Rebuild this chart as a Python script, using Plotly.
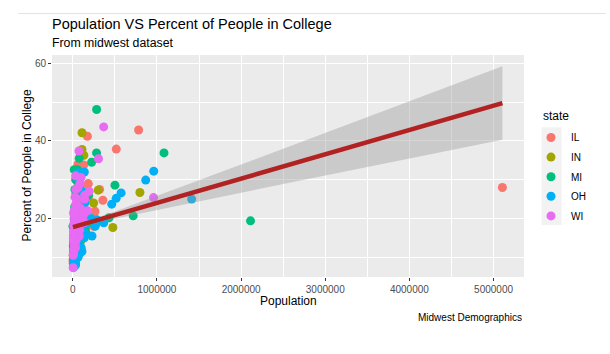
import plotly.graph_objects as go

# ---------------- data ----------------
states = ["IL", "IN", "MI", "OH", "WI"]
colors = ["#F8766D", "#A3A500", "#00BF7D", "#00B0F6", "#E76BF3"]

il_pop = [5105067, 781666, 516418, 357313, 317471, 262852, 252913, 249238, 182827, 183241,
          178386, 173025, 148723, 129180, 117206, 123692, 96255, 106913, 61067, 88257,
          77932, 66090, 39413, 51644, 56393, 57733, 60186, 45957, 48052, 35244,
          30806, 32337, 39301, 47679, 31704, 40319, 41561, 33944, 34418, 37020,
          51159, 34392, 36397, 38080, 22422, 34583, 35688, 30787, 26551, 30728,
          30798, 17619, 19464, 19595, 15548, 17290, 22261, 21821, 19181, 15317,
          21373, 17577, 21412, 17241, 19464, 15972, 15921, 20893, 14275, 13930,
          13437, 14752, 11347, 8499, 4373, 5189, 5322, 5644, 5836, 5730,
          6534, 6909, 7440, 10626, 7523, 8096, 7498, 11164, 10670, 10609,
          14460, 16545, 13111, 16522, 14965, 12846, 16269, 16516, 32653, 16805,
          20539, 14991]
il_pc = [28.0, 42.8, 37.9, 24.7, 27.5, 21.9, 21.3, 18.0, 25.2, 29.0,
         28.8, 41.2, 20.3, 33.8, 22.0, 19.5, 16.5, 15.5, 34.0, 14.0,
         30.5, 18.0, 22.5, 27.0, 17.0, 17.5, 15.5, 17.0, 17.5, 30.0,
         16.5, 15.0, 14.5, 13.0, 16.0, 12.5, 12.0, 13.5, 12.5, 15.0,
         15.5, 14.0, 18.5, 12.0, 19.0, 11.5, 15.0, 13.0, 13.0, 11.0,
         16.0, 12.5, 13.5, 12.5, 20.0, 13.0, 12.0, 15.0, 14.5, 10.5,
         14.0, 11.5, 12.0, 11.0, 12.0, 10.5, 11.5, 10.0, 14.5, 13.5,
         12.0, 11.0, 10.0, 11.5, 9.5, 9.0, 8.5, 10.5, 9.0, 13.0,
         14.0, 8.5, 11.0, 9.0, 9.5, 10.5, 12.5, 17.5, 13.0, 12.0,
         11.0, 14.0, 13.5, 10.5, 13.0, 13.5, 11.5, 15.0, 22.5, 13.0,
         13.5, 14.5]

in_pop = [797159, 475594, 300836, 247052, 165058, 156198, 130598, 128932, 130669, 119659,
          108978, 108936, 106107, 107066, 80827, 87777, 88109, 75717, 63657, 71951,
          74169, 64404, 65294, 45527, 55920, 38835, 44920, 42836, 48139, 42182,
          37877, 35324, 37730, 38413, 39884, 35427, 40307, 36897, 34436, 36616,
          29890, 38147, 30315, 35069, 27651, 30974, 24960, 27446, 23645, 29797,
          31913, 27533, 25968, 20991, 23661, 27148, 29477, 31095, 25948, 26015,
          21512, 17281, 18993, 30410, 23717, 24705, 22747, 18840, 23265, 16119,
          18129, 18409, 19490, 19107, 19580, 15410, 14067, 18809, 12643, 14080,
          9914, 17808, 10369, 13551, 9441, 7738, 5315, 6976, 8176, 16773,
          12509, 24616]
in_pc = [26.7, 17.7, 27.3, 24.0, 21.5, 16.5, 36.3, 23.5, 15.0, 22.0,
         42.1, 37.8, 22.5, 15.5, 16.5, 14.0, 22.5, 21.0, 22.5, 15.5,
         15.0, 19.5, 16.5, 20.0, 13.5, 13.0, 17.0, 11.0, 12.5, 13.5,
         11.5, 12.0, 12.0, 12.5, 15.5, 15.0, 12.5, 12.0, 15.0, 14.0,
         10.5, 20.5, 19.0, 14.5, 13.5, 12.0, 12.5, 14.5, 11.5, 16.0,
         12.0, 10.0, 13.0, 8.5, 9.0, 11.5, 9.5, 12.0, 13.5, 9.5,
         10.0, 10.0, 10.5, 10.5, 9.5, 10.5, 9.0, 11.5, 12.0, 13.0,
         12.0, 10.0, 11.0, 10.5, 10.0, 11.0, 10.5, 11.5, 10.5, 17.5,
         8.0, 11.0, 9.5, 9.5, 11.5, 9.0, 10.5, 11.0, 12.0, 10.0,
         9.5, 11.0]

mi_pop = [2111687, 1083592, 717400, 500631, 430459, 282937, 281912, 223411, 211946, 187768,
          158983, 149756, 161378, 133600, 135982, 145607, 115645, 111723, 91476, 75651,
          92879, 90509, 64273, 70887, 74768, 54624, 70060, 69770, 57024, 57883,
          58913, 35446, 43431, 50057, 53059, 49477, 41502, 55498, 39928, 38202,
          37308, 34604, 37780, 25040, 16527, 38982, 34951, 25537, 20146, 26360,
          30605, 21398, 21468, 26831, 18052, 30209, 24952, 21896, 19776, 18681,
          17957, 13497, 18185, 12200, 21265, 22454, 8583, 12147, 7842, 10145,
          14931, 12260, 8936, 13743, 8972, 7954, 13175, 1701, 5763, 10674,
          24920, 8854, 8302]
mi_pc = [19.4, 36.9, 20.7, 28.6, 20.2, 48.1, 36.9, 34.5, 19.0, 26.0,
         16.0, 17.5, 19.5, 15.0, 18.5, 16.0, 24.5, 16.0, 16.0, 35.5,
         21.5, 16.5, 29.0, 26.0, 13.5, 32.6, 15.5, 14.0, 13.0, 21.0,
         14.5, 30.0, 14.0, 15.5, 12.0, 12.5, 13.0, 12.5, 11.5, 12.0,
         26.5, 19.0, 17.5, 27.5, 32.6, 14.5, 12.5, 17.0, 11.5, 15.0,
         17.0, 15.5, 23.0, 17.5, 18.0, 14.0, 12.0, 11.5, 13.5, 12.5,
         19.0, 12.5, 19.5, 21.5, 16.0, 14.0, 9.5, 11.0, 11.0, 12.0,
         10.5, 13.5, 11.5, 13.0, 15.5, 14.5, 14.0, 18.0, 13.0, 16.5,
         13.5, 15.0, 14.0]

oh_pop = [1412140, 961437, 866228, 573809, 514990, 462361, 367585, 291479, 271126, 264806,
          215499, 227813, 150187, 113909, 136731, 142585, 122354, 113269, 126137, 128300,
          147548, 109755, 108276, 66929, 59549, 103461, 101461, 84090, 99821, 80298,
          93182, 81129, 76779, 69330, 71074, 82068, 80327, 64274, 65536, 61963,
          61834, 47473, 59733, 62254, 47507, 56240, 40029, 47870, 53619, 44585,
          44915, 31969, 37068, 48255, 36019, 39350, 42310, 36956, 38498, 39443,
          33819, 30464, 34966, 35415, 35728, 40113, 39024, 35427, 32849, 30954,
          30230, 31111, 22254, 27749, 31557, 27466, 25371, 22987, 25533, 26521,
          16085, 15497, 11336, 14194, 20488, 24249, 11098, 29108]
oh_pc = [25.0, 32.2, 29.9, 26.6, 25.2, 23.7, 18.9, 19.6, 18.5, 18.0,
         20.0, 15.5, 18.5, 22.0, 32.0, 24.0, 22.5, 27.0, 15.0, 19.0,
         16.0, 16.5, 11.5, 31.8, 30.5, 18.5, 16.5, 11.5, 12.5, 12.0,
         15.5, 28.0, 16.0, 13.0, 11.0, 12.5, 11.0, 12.5, 20.0, 12.5,
         10.0, 18.0, 13.0, 15.5, 16.0, 12.0, 13.0, 11.0, 10.5, 13.0,
         12.0, 15.0, 12.5, 11.5, 12.0, 14.0, 13.0, 12.5, 13.0, 12.0,
         12.0, 12.5, 10.0, 13.0, 10.5, 11.0, 11.5, 11.0, 8.0, 11.5,
         9.5, 14.5, 11.5, 10.5, 8.5, 10.5, 8.0, 9.0, 10.5, 9.5,
         9.0, 8.5, 8.5, 8.5, 10.5, 9.5, 7.5, 13.0]

wi_pop = [959275, 367085, 304715, 194594, 175034, 140320, 140510, 128181, 139510, 115400,
          103877, 97904, 95328, 90083, 85183, 75000, 72831, 80421, 73605, 61405,
          67783, 76559, 50251, 46975, 45088, 52360, 49264, 40750, 35909, 32765,
          40548, 36633, 46104, 37157, 31679, 34773, 26993, 30339, 41758, 34291,
          17707, 31647, 25263, 25617, 25690, 19505, 18878, 30226, 16588, 19385,
          21650, 15682, 18651, 20150, 16076, 17521, 14181, 18901, 15600, 15079,
          13772, 13084, 16307, 14008, 13584, 15940, 8776, 4590, 6153, 12321,
          7107, 3890]
wi_pc = [25.4, 43.6, 35.4, 27.0, 22.0, 26.0, 25.0, 21.0, 19.0, 20.0,
         19.5, 30.6, 22.5, 18.5, 29.0, 23.0, 37.4, 17.0, 18.5, 28.0,
         21.0, 15.5, 25.0, 20.5, 19.0, 17.0, 22.5, 17.5, 27.5, 31.0,
         14.5, 16.0, 17.5, 15.0, 23.0, 18.0, 16.5, 20.0, 24.0, 23.5,
         21.5, 12.5, 16.0, 15.5, 25.5, 14.0, 14.5, 13.5, 15.0, 14.0,
         13.0, 12.0, 16.5, 19.5, 15.5, 17.0, 18.5, 12.5, 15.0, 13.5,
         18.0, 14.5, 22.0, 21.0, 14.0, 15.5, 11.0, 10.5, 15.0, 12.0,
         14.5, 7.3]

pops = [il_pop, in_pop, mi_pop, oh_pop, wi_pop]
pcts = [il_pc, in_pc, mi_pc, oh_pc, wi_pc]

# linear fit and its confidence band
fit_x = [1701, 100000, 250000, 500000, 1000000, 1500000, 2000000, 2500000,
         3000000, 3500000, 4000000, 4500000, 5105067]
fit_y = [17.76, 18.38, 19.32, 20.89, 24.02, 27.16, 30.29, 33.43,
         36.56, 39.70, 42.83, 45.97, 49.76]
fit_lo = [17.17, 17.82, 18.69, 19.94, 22.23, 24.46, 26.66, 28.87,
          31.06, 33.26, 35.45, 37.65, 40.31]
fit_hi = [18.35, 18.94, 19.95, 21.84, 25.81, 29.86, 33.92, 37.99,
          42.06, 46.14, 50.21, 54.29, 59.21]

x_ticks = [0, 1000000, 2000000, 3000000, 4000000, 5000000]
y_ticks = [20, 40, 60]

# ---------------- geometry ----------------
W, H = 610, 354
L, R, T, B = 52, 524, 55, 277   # panel edges in pixels


def px(x):
    return (x - L) / (R - L)


def py(y):
    return (B - y) / (B - T)


FONT = "Liberation Sans, Arial, sans-serif"

fig = go.Figure()

for i, s in enumerate(states):
    fig.add_trace(go.Scatter(
        x=pops[i], y=pcts[i], mode="markers", name=s, legendgroup=s,
        marker=dict(color=colors[i], size=9, line=dict(width=0)),
        hoverinfo="skip"))

fig.add_trace(go.Scatter(x=fit_x, y=fit_lo, mode="lines", line=dict(width=0),
                         showlegend=False, hoverinfo="skip"))
fig.add_trace(go.Scatter(x=fit_x, y=fit_hi, mode="lines", line=dict(width=0),
                         fill="tonexty", fillcolor="rgba(153,153,153,0.4)",
                         showlegend=False, hoverinfo="skip"))
fig.add_trace(go.Scatter(x=fit_x, y=fit_y, mode="lines",
                         line=dict(color="#B22222", width=4.5),
                         showlegend=False, hoverinfo="skip"))

axis_common = dict(
    showline=False, zeroline=False, ticks="outside", ticklen=3, tickwidth=1,
    tickcolor="#333333", tickfont=dict(family=FONT, size=10, color="#4D4D4D"),
    showgrid=True, gridcolor="white", gridwidth=1.2,
)

fig.update_layout(
    width=W, height=H,
    margin=dict(l=L, r=W - R, t=T, b=H - B, pad=0),
    paper_bgcolor="white", plot_bgcolor="#EBEBEB",
    font=dict(family=FONT, color="black"),
    xaxis=dict(range=[-247500, 5362000], tickvals=x_ticks,
               ticktext=[str(v) for v in x_ticks],
               minor=dict(dtick=500000, tick0=0, showgrid=True, gridcolor="white",
                          gridwidth=0.6, ticklen=0),
               **axis_common),
    yaxis=dict(range=[4.93, 62.14], tickvals=y_ticks,
               ticktext=[str(v) for v in y_ticks],
               minor=dict(dtick=10, tick0=0, showgrid=True, gridcolor="white",
                          gridwidth=0.6, ticklen=0),
               **axis_common),
    showlegend=True,
    legend=dict(x=px(531), xanchor="left", y=py(123), yanchor="top",
                bgcolor="rgba(0,0,0,0)", borderwidth=0,
                font=dict(family=FONT, size=10, color="black"),
                tracegroupgap=0.6, itemsizing="trace"),
    annotations=[
        dict(text="Population VS Percent of People in College", xref="paper", yref="paper",
             x=px(50), y=py(23.5), xanchor="left", yanchor="middle", showarrow=False,
             font=dict(family=FONT, size=14.5, color="black")),
        dict(text="From midwest dataset", xref="paper", yref="paper",
             x=px(50), y=py(43), xanchor="left", yanchor="middle", showarrow=False,
             font=dict(family=FONT, size=12.3, color="black")),
        dict(text="Population", xref="paper", yref="paper",
             x=px(288), y=py(300.5), xanchor="center", yanchor="middle", showarrow=False,
             font=dict(family=FONT, size=12, color="black")),
        dict(text="Percent of People in College", xref="paper", yref="paper",
             x=px(26.5), y=py(166), xanchor="center", yanchor="middle", showarrow=False,
             textangle=-90, font=dict(family=FONT, size=12, color="black")),
        dict(text="Midwest Demographics", xref="paper", yref="paper",
             x=px(524), y=py(317.5), xanchor="right", yanchor="middle", showarrow=False,
             font=dict(family=FONT, size=10, color="black")),
        dict(text="state", xref="paper", yref="paper",
             x=px(541), y=py(116), xanchor="left", yanchor="middle", showarrow=False,
             font=dict(family=FONT, size=12, color="black")),
    ],
    shapes=[
        dict(type="line", xref="paper", yref="paper", x0=px(18), x1=px(606),
             y0=py(13.5), y1=py(13.5), line=dict(color="#E3E3E3", width=1)),
        dict(type="rect", xref="paper", yref="paper", x0=px(541.7), x1=px(561.7),
             y0=py(127.3), y1=py(225), fillcolor="#F2F2F2", line=dict(width=0),
             layer="below"),
    ],
)

fig.write_html("out.html")
